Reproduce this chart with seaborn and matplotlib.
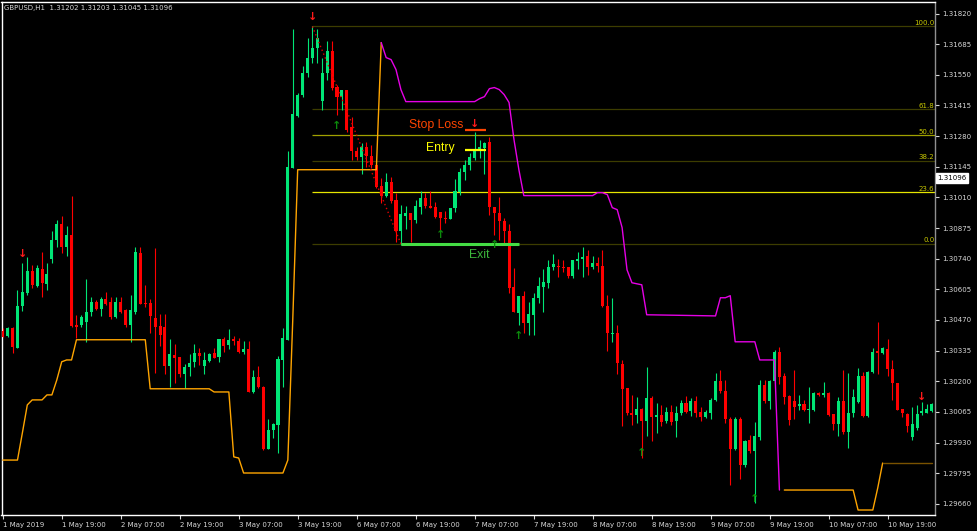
import numpy as np
import matplotlib
matplotlib.use("Agg")
import matplotlib.pyplot as plt
import matplotlib.transforms as mtransforms
import seaborn as sns

# GBPUSD H1 candles (bar 0 = 1 May 07:00)
open_ = [1.30423, 1.30400, 1.30436, 1.30347, 1.30533, 1.30590, 1.30687, 1.30621, 1.30696, 1.30630,
         1.30740, 1.30824, 1.30894, 1.30793, 1.30846, 1.30449, 1.30449, 1.30462, 1.30506, 1.30550,
         1.30519, 1.30563, 1.30550, 1.30484, 1.30550, 1.30515, 1.30449, 1.30506, 1.30766, 1.30546,
         1.30546, 1.30480, 1.30444, 1.30440, 1.30268, 1.30316, 1.30307, 1.30232, 1.30263, 1.30285,
         1.30325, 1.30268, 1.30290, 1.30325, 1.30307, 1.30387, 1.30360, 1.30387, 1.30378, 1.30329,
         1.30343, 1.30153, 1.30219, 1.30175, 1.29901, 1.29986, 1.30008, 1.30294, 1.30383, 1.31141,
         1.31370, 1.31463, 1.31560, 1.31626, 1.31666, 1.31436, 1.31560, 1.31653, 1.31498, 1.31454,
         1.31481, 1.31322, 1.31216, 1.31190, 1.31234, 1.31194, 1.31154, 1.31062, 1.31018, 1.31079,
         1.31000, 1.30864, 1.30929, 1.30943, 1.30912, 1.30969, 1.31009, 1.30973, 1.30969, 1.30947,
         1.30921, 1.30916, 1.30965, 1.31035, 1.31123, 1.31154, 1.31185, 1.31216, 1.31229, 1.31256,
         1.30969, 1.30943, 1.30907, 1.30864, 1.30616, 1.30502, 1.30576, 1.30458, 1.30493, 1.30568,
         1.30616, 1.30634, 1.30704, 1.30709, 1.30704, 1.30704, 1.30665, 1.30731, 1.30740, 1.30753,
         1.30704, 1.30722, 1.30709, 1.30533, 1.30409, 1.30414, 1.30276, 1.30171, 1.30061, 1.30052,
         1.30078, 1.30026, 1.30127, 1.30043, 1.30052, 1.30026, 1.30065, 1.30026, 1.30061, 1.30105,
         1.30069, 1.30114, 1.30065, 1.30043, 1.30061, 1.30118, 1.30202, 1.30158, 1.30034, 1.29901,
         1.30034, 1.29831, 1.29941, 1.29893, 1.29955, 1.30184, 1.30114, 1.30202, 1.30329, 1.30224,
         1.30136, 1.30114, 1.30091, 1.30100, 1.30074, 1.30074, 1.30149, 1.30140, 1.30149, 1.30056,
         1.30012, 1.30114, 1.29977, 1.30061, 1.30109, 1.30224, 1.30047, 1.30241, 1.30334, 1.30325,
         1.30343, 1.30255, 1.30193, 1.30078, 1.30056, 1.29955, 1.29995, 1.30061, 1.30061, 1.30069]
high_ = [1.30436, 1.30440, 1.30440, 1.30603, 1.30722, 1.30748, 1.30713, 1.30713, 1.30771, 1.30722,
         1.30864, 1.30912, 1.30930, 1.30885, 1.31018, 1.30493, 1.30493, 1.30652, 1.30572, 1.30559,
         1.30572, 1.30594, 1.30572, 1.30572, 1.30572, 1.30519, 1.30581, 1.30793, 1.30793, 1.30625,
         1.30563, 1.30789, 1.30497, 1.30497, 1.30387, 1.30365, 1.30307, 1.30276, 1.30321, 1.30365,
         1.30347, 1.30329, 1.30325, 1.30347, 1.30387, 1.30396, 1.30431, 1.30400, 1.30392, 1.30378,
         1.30378, 1.30250, 1.30268, 1.30180, 1.30034, 1.30016, 1.30312, 1.30436, 1.31216, 1.31754,
         1.31472, 1.31587, 1.31714, 1.31763, 1.31750, 1.31622, 1.31697, 1.31697, 1.31507, 1.31485,
         1.31485, 1.31366, 1.31234, 1.31251, 1.31256, 1.31243, 1.31154, 1.31097, 1.31119, 1.31101,
         1.31031, 1.30978, 1.30973, 1.30943, 1.31000, 1.31040, 1.31031, 1.31040, 1.30991, 1.30947,
         1.30951, 1.30965, 1.31093, 1.31141, 1.31176, 1.31207, 1.31300, 1.31265, 1.31256, 1.31278,
         1.30969, 1.31013, 1.30920, 1.30894, 1.30700, 1.30576, 1.30598, 1.30550, 1.30590, 1.30660,
         1.30696, 1.30735, 1.30762, 1.30740, 1.30735, 1.30704, 1.30735, 1.30771, 1.30793, 1.30780,
         1.30753, 1.30748, 1.30780, 1.30581, 1.30568, 1.30449, 1.30294, 1.30171, 1.30140, 1.30131,
         1.30083, 1.30263, 1.30136, 1.30105, 1.30096, 1.30087, 1.30096, 1.30091, 1.30118, 1.30136,
         1.30127, 1.30136, 1.30087, 1.30074, 1.30127, 1.30237, 1.30250, 1.30206, 1.30043, 1.30043,
         1.30043, 1.29941, 1.29963, 1.30021, 1.30206, 1.30206, 1.30206, 1.30338, 1.30352, 1.30237,
         1.30140, 1.30250, 1.30140, 1.30118, 1.30175, 1.30153, 1.30153, 1.30197, 1.30153, 1.30056,
         1.30131, 1.30250, 1.30237, 1.30166, 1.30259, 1.30241, 1.30246, 1.30347, 1.30462, 1.30352,
         1.30387, 1.30294, 1.30193, 1.30078, 1.30061, 1.30087, 1.30096, 1.30109, 1.30100, 1.30105]
low_ = [1.30396, 1.30396, 1.30325, 1.30347, 1.30511, 1.30581, 1.30612, 1.30616, 1.30572, 1.30603,
        1.30722, 1.30793, 1.30766, 1.30753, 1.30440, 1.30392, 1.30440, 1.30374, 1.30488, 1.30515,
        1.30488, 1.30537, 1.30475, 1.30480, 1.30502, 1.30440, 1.30374, 1.30497, 1.30541, 1.30528,
        1.30414, 1.30237, 1.30356, 1.30232, 1.30175, 1.30193, 1.30219, 1.30171, 1.30224, 1.30263,
        1.30272, 1.30232, 1.30285, 1.30303, 1.30285, 1.30329, 1.30343, 1.30360, 1.30325, 1.30321,
        1.30153, 1.30149, 1.30171, 1.29897, 1.29901, 1.29950, 1.29884, 1.30175, 1.30383, 1.31141,
        1.31366, 1.31454, 1.31542, 1.31604, 1.31604, 1.31397, 1.31529, 1.31485, 1.31375, 1.31397,
        1.31296, 1.31176, 1.31176, 1.31115, 1.31145, 1.31141, 1.31053, 1.30987, 1.31013, 1.30987,
        1.30815, 1.30802, 1.30869, 1.30815, 1.30898, 1.30938, 1.30965, 1.30965, 1.30921, 1.30859,
        1.30898, 1.30916, 1.30947, 1.31022, 1.31088, 1.31132, 1.31176, 1.31185, 1.31115, 1.30934,
        1.30846, 1.30824, 1.30810, 1.30590, 1.30506, 1.30449, 1.30414, 1.30405, 1.30405, 1.30546,
        1.30506, 1.30612, 1.30691, 1.30660, 1.30682, 1.30656, 1.30656, 1.30696, 1.30660, 1.30669,
        1.30696, 1.30682, 1.30528, 1.30334, 1.30374, 1.30232, 1.30004, 1.30052, 1.30008, 1.30017,
        1.29862, 1.29959, 1.29937, 1.29973, 1.30004, 1.30017, 1.30008, 1.29955, 1.30052, 1.30061,
        1.30047, 1.30043, 1.30026, 1.30039, 1.30034, 1.30114, 1.30149, 1.30017, 1.29743, 1.29897,
        1.29769, 1.29822, 1.29884, 1.29664, 1.29941, 1.30105, 1.30078, 1.30193, 1.30189, 1.30100,
        1.30008, 1.30034, 1.30074, 1.30069, 1.30017, 1.30069, 1.30136, 1.30131, 1.30047, 1.29986,
        1.29959, 1.29968, 1.29906, 1.30043, 1.30105, 1.30043, 1.30043, 1.30237, 1.30232, 1.30321,
        1.30224, 1.30118, 1.30074, 1.30043, 1.29977, 1.29941, 1.29986, 1.30052, 1.30061, 1.30065]
close_ = [1.30396, 1.30436, 1.30352, 1.30533, 1.30594, 1.30687, 1.30625, 1.30700, 1.30634, 1.30674,
          1.30824, 1.30894, 1.30793, 1.30846, 1.30444, 1.30440, 1.30484, 1.30506, 1.30550, 1.30519,
          1.30563, 1.30541, 1.30484, 1.30550, 1.30506, 1.30449, 1.30515, 1.30771, 1.30541, 1.30541,
          1.30488, 1.30440, 1.30405, 1.30268, 1.30321, 1.30303, 1.30232, 1.30263, 1.30281, 1.30325,
          1.30312, 1.30294, 1.30321, 1.30303, 1.30387, 1.30356, 1.30383, 1.30378, 1.30329, 1.30343,
          1.30153, 1.30219, 1.30175, 1.29901, 1.29986, 1.30012, 1.30299, 1.30392, 1.31145, 1.31379,
          1.31459, 1.31560, 1.31626, 1.31666, 1.31714, 1.31560, 1.31653, 1.31494, 1.31454, 1.31481,
          1.31309, 1.31216, 1.31190, 1.31234, 1.31194, 1.31154, 1.31057, 1.31018, 1.31079, 1.30996,
          1.30864, 1.30938, 1.30943, 1.30912, 1.30973, 1.31009, 1.30973, 1.30965, 1.30925, 1.30921,
          1.30916, 1.30965, 1.31040, 1.31123, 1.31154, 1.31190, 1.31221, 1.31234, 1.31251, 1.30969,
          1.30943, 1.30907, 1.30864, 1.30612, 1.30506, 1.30576, 1.30458, 1.30497, 1.30568, 1.30621,
          1.30638, 1.30704, 1.30718, 1.30704, 1.30700, 1.30665, 1.30735, 1.30740, 1.30748, 1.30704,
          1.30722, 1.30709, 1.30533, 1.30414, 1.30414, 1.30281, 1.30166, 1.30061, 1.30052, 1.30078,
          1.30026, 1.30127, 1.30043, 1.30052, 1.30021, 1.30065, 1.30021, 1.30061, 1.30105, 1.30065,
          1.30114, 1.30061, 1.30043, 1.30065, 1.30118, 1.30202, 1.30158, 1.30034, 1.29901, 1.30034,
          1.29831, 1.29937, 1.29893, 1.29959, 1.30184, 1.30114, 1.30202, 1.30329, 1.30219, 1.30131,
          1.30030, 1.30087, 1.30100, 1.30074, 1.30078, 1.30149, 1.30140, 1.30149, 1.30052, 1.30012,
          1.30114, 1.29977, 1.30061, 1.30131, 1.30224, 1.30047, 1.30241, 1.30329, 1.30325, 1.30347,
          1.30255, 1.30193, 1.30074, 1.30061, 1.30004, 1.30012, 1.30056, 1.30069, 1.30078, 1.30100]

# trailing stop indicator (bar index, price)
orange1_x = [0, 3, 4, 5, 6, 8, 9, 10, 11, 12, 13, 14, 15, 29, 30, 42, 43, 46, 47, 48, 49, 57, 58, 59, 60, 76, 77]
orange1_y = [1.29853, 1.29853, 1.29973, 1.30096, 1.30118, 1.30118, 1.30140, 1.30140, 1.30206, 1.30286,
             1.30294, 1.30294, 1.30383, 1.30383, 1.30167, 1.30167, 1.30153, 1.30153, 1.29867, 1.29862,
             1.29796, 1.29796, 1.29853, 1.30471, 1.31132, 1.31132, 1.31692]
magenta_x = [77, 78, 79, 80, 81, 82, 96, 97, 98, 99, 100, 101, 102, 103, 104, 105, 106, 120, 121, 122, 123,
             124, 125, 126, 127, 128, 130, 131, 145, 146, 147, 148, 149, 153, 154, 157, 158]
magenta_y = [1.31692, 1.31626, 1.31617, 1.31573, 1.31485, 1.31432, 1.31432, 1.31445, 1.31454, 1.31489,
             1.31494, 1.31485, 1.31463, 1.31428, 1.31265, 1.31132, 1.31018, 1.31018, 1.31031, 1.31031,
             1.31022, 1.30965, 1.30956, 1.30877, 1.30691, 1.30634, 1.30625, 1.30493, 1.30488, 1.30568,
             1.30568, 1.30577, 1.30374, 1.30374, 1.30294, 1.30294, 1.29721]
orange2_x = [159, 173, 174, 177, 178, 179]
orange2_y = [1.29721, 1.29721, 1.29633, 1.29633, 1.29730, 1.29840]
brown_x = [179, 189]
brown_y = [1.29840, 1.29840]

# fibonacci swing and trade levels
fib_start, fib_high, fib_low, swing_end = 63, 1.31763, 1.30806, 81
fib_levels = [0.0, 23.6, 38.2, 50.0, 61.8, 100.0]
fib_colors = ["#3d3d00", "#e6e600", "#3d3d00", "#a0a000", "#3d3d00", "#3d3d00"]
stop_loss, entry, exit_ = 1.31309, 1.31221, 1.30806

down_arrows = [(4, 1.30762), (63, 1.31807), (96, 1.31333), (187, 1.30131)]
up_arrows = [(68, 1.31326), (89, 1.30846), (100, 1.30802), (105, 1.30400), (130, 1.29882), (153, 1.29681)]

price_ticks = [1.31820, 1.31685, 1.31550, 1.31415, 1.31280, 1.31145, 1.31010, 1.30875, 1.30740,
               1.30605, 1.30470, 1.30335, 1.30200, 1.30065, 1.29930, 1.29795, 1.29660]
time_labels = ["1 May 2019", "1 May 19:00", "2 May 07:00", "2 May 19:00", "3 May 07:00", "3 May 19:00",
               "6 May 07:00", "6 May 19:00", "7 May 07:00", "7 May 19:00", "8 May 07:00", "8 May 19:00",
               "9 May 07:00", "9 May 19:00", "10 May 07:00", "10 May 19:00"]
last_price = 1.31096

sns.set_theme(style="dark", rc={"axes.facecolor": "black", "figure.facecolor": "black"})
plt.rcParams["font.family"] = ["DejaVu Sans"]

fig = plt.figure(figsize=(9.77, 5.31), dpi=100)
ax = fig.add_axes([1.5 / 977, 16 / 531, 933.5 / 977, 513.5 / 531])
ax.set_facecolor("black")
ax.grid(False)

o = np.array(open_)
h = np.array(high_)
l = np.array(low_)
c = np.array(close_)
idx = np.arange(len(c))
cols = np.where(c > o, "#00e676", "#ff0000")

# fibonacci levels
rng = fib_high - fib_low
blend = mtransforms.blended_transform_factory(ax.transAxes, ax.transData)
for lev, col in zip(fib_levels, fib_colors):
    p = fib_low + rng * lev / 100
    ax.hlines(p, fib_start, 190, color=col, lw=0.9, zorder=1)
    ax.text(0.9995, p + 0.00002, "%.1f" % lev, transform=blend, ha="right", va="bottom",
            fontsize=5, color="#c8c800", zorder=6)

# candles
ax.vlines(idx, l, h, colors=cols, lw=0.8, zorder=3)
body = np.maximum(np.abs(c - o), 0.00003)
ax.bar(idx, body, bottom=np.minimum(o, c), width=0.62, color=cols, linewidth=0, zorder=3)

# indicator lines
sns.lineplot(x=orange1_x, y=orange1_y, ax=ax, color="#ffa500", linewidth=1.0, estimator=None, sort=False, zorder=4)
sns.lineplot(x=magenta_x, y=magenta_y, ax=ax, color="#e600e6", linewidth=1.0, estimator=None, sort=False, zorder=4)
sns.lineplot(x=orange2_x, y=orange2_y, ax=ax, color="#ffa500", linewidth=1.0, estimator=None, sort=False, zorder=4)
sns.lineplot(x=brown_x, y=brown_y, ax=ax, color="#7a5200", linewidth=1.0, estimator=None, sort=False, zorder=4)

# swing line
ax.plot([fib_start, swing_end], [fib_high, fib_low], color="#e00000", lw=1.0, ls=(0, (1, 2)), zorder=4)

# trade levels
ax.hlines(exit_, swing_end, 105, color="#44dd44", lw=2.2, zorder=5)
ax.hlines(stop_loss, 94, 98.3, color="#ff4500", lw=1.6, zorder=5)
ax.hlines(entry, 94, 98.3, color="#ffff00", lw=1.6, zorder=5)
ax.text(88.1, 1.31331, "Stop Loss", color="#ff4500", fontsize=8.8, family="Liberation Sans",
        ha="center", va="center", zorder=6)
ax.text(89.1, 1.31229, "Entry", color="#ffff00", fontsize=8.8, family="Liberation Sans",
        ha="center", va="center", zorder=6)
ax.text(97, 1.30757, "Exit", color="#3cb83c", fontsize=8.8, family="Liberation Sans",
        ha="center", va="center", zorder=6)

for x, y in down_arrows:
    ax.text(x, y, "↓", color="#ff1a1a", fontsize=8, fontweight="bold", ha="center", va="center", zorder=6)
for x, y in up_arrows:
    ax.text(x, y, "↑", color="#0b8a0b", fontsize=8, fontweight="bold", ha="center", va="center", zorder=6)

ax.set_xlim(-0.25, 189.65)
ax.set_ylim(1.29611, 1.31873)

# price scale on the right
ax.yaxis.tick_right()
ax.set_yticks(price_ticks)
ax.set_yticklabels(["%.5f" % t for t in price_ticks])
ax.set_xticks(np.arange(0, 181, 12))
ax.set_xticklabels(time_labels, ha="left")
ax.tick_params(axis="both", colors="#d8d8d8", labelsize=5, length=3, width=0.8, pad=2,
               direction="out", bottom=True, right=True, left=False)
for side in ["left", "top", "bottom"]:
    ax.spines[side].set_color("white")
    ax.spines[side].set_linewidth(1.0)
ax.spines["right"].set_color("#909090")
ax.spines["right"].set_linewidth(1.0)

ax.text(1.0 + 2.5 / 933.5, last_price, "1.31096", transform=blend, fontsize=5, color="black",
        ha="left", va="center", clip_on=False, zorder=7,
        bbox=dict(boxstyle="square,pad=0.25", facecolor="white", edgecolor="white"))

fig.text(4 / 977, 1 - 8 / 531, "GBPUSD,H1  1.31202 1.31203 1.31045 1.31096", color="#d8d8d8",
         fontsize=5, ha="left", va="center")

fig.savefig("out.png", dpi=100, facecolor="black")
